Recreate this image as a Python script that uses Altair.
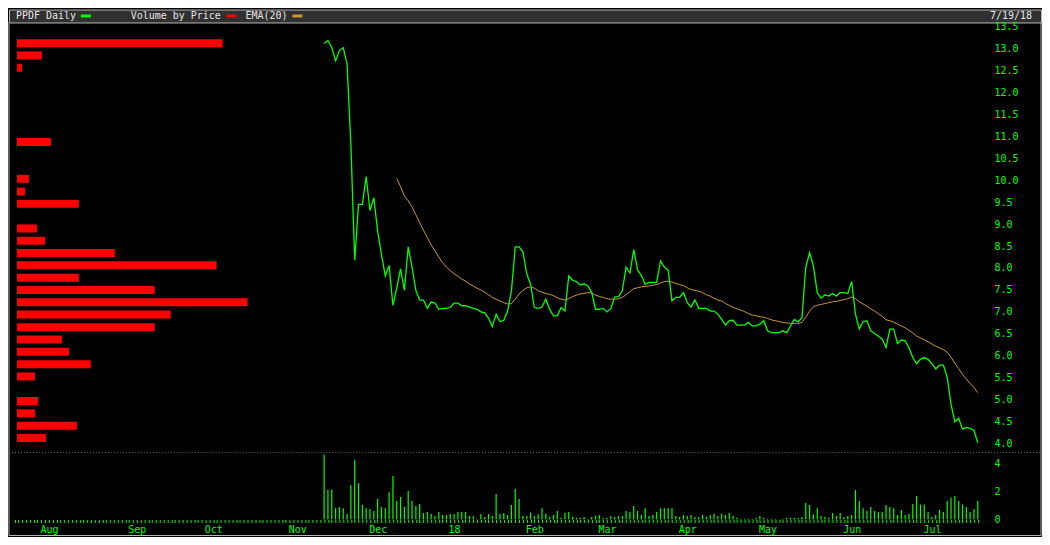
import altair as alt
import pandas as pd

# ---------------- data ----------------
HOLIDAYS = ["2017-09-04", "2017-11-23", "2017-12-25", "2018-01-01", "2018-01-15",
            "2018-02-19", "2018-03-30", "2018-05-28", "2018-07-04"]
START, END, FIRST_TRADE = "2017-07-19", "2018-07-19", "2017-11-10"
MONTH_LABELS = ["Aug", "Sep", "Oct", "Nov", "Dec", "18", "Feb", "Mar", "Apr", "May", "Jun", "Jul"]
HEADER_ITEMS = ["PPDF Daily", "Volume by Price", "EMA(20)"]
HEADER_DATE = "7/19/18"

CLOSE = [
    13.11, 13.18, 13.02, 12.72, 12.95, 13.02, 12.64, 10.82, 8.18, 9.45,
    9.45, 10.08, 9.31, 9.60, 8.84, 8.31, 7.82, 8.06, 7.15, 7.55,
    7.98, 7.49, 8.48, 8.02, 7.49, 7.27, 7.27, 7.08, 7.23, 7.20,
    7.06, 7.08, 7.08, 7.10, 7.20, 7.20, 7.14, 7.14, 7.11, 7.08,
    7.06, 7.00, 6.98, 6.86, 6.67, 6.95, 6.78, 6.81, 7.02, 7.48,
    8.48, 8.48, 8.37, 7.87, 7.63, 7.10, 7.08, 7.11, 7.29, 7.06,
    6.91, 6.91, 7.10, 7.02, 7.82, 7.72, 7.69, 7.61, 7.64, 7.59,
    7.44, 7.06, 7.06, 7.08, 7.00, 7.08, 7.34, 7.35, 7.48, 8.02,
    7.89, 8.42, 7.95, 7.83, 7.63, 7.67, 7.67, 7.68, 8.16, 8.02,
    7.95, 7.25, 7.33, 7.33, 7.44, 7.21, 7.11, 7.27, 7.08, 7.08,
    7.08, 7.02, 7.02, 6.95, 6.83, 6.70, 6.80, 6.81, 6.70, 6.70,
    6.70, 6.76, 6.68, 6.68, 6.72, 6.80, 6.57, 6.53, 6.53, 6.53,
    6.57, 6.53, 6.68, 6.83, 6.77, 6.87, 8.01, 8.35, 8.05, 7.44,
    7.31, 7.39, 7.36, 7.42, 7.36, 7.44, 7.44, 7.42, 7.69, 6.95,
    6.61, 6.78, 6.80, 6.57, 6.51, 6.45, 6.38, 6.19, 6.61, 6.61,
    6.28, 6.36, 6.34, 6.19, 5.96, 5.82, 5.92, 5.96, 5.92, 5.82,
    5.70, 5.79, 5.79, 5.51, 4.90, 4.50, 4.58, 4.33, 4.37, 4.35,
    4.30, 4.02,
]

EMA_OFFSET = 19  # first EMA(20) value is on the 20th session
EMA20 = [
    10.04, 9.85, 9.64, 9.53, 9.39, 9.21, 9.03, 8.86, 8.69, 8.53,
    8.39, 8.25, 8.12, 8.02, 7.94, 7.87, 7.81, 7.75, 7.70, 7.64,
    7.59, 7.54, 7.50, 7.45, 7.39, 7.33, 7.29, 7.25, 7.21, 7.18,
    7.19, 7.29, 7.41, 7.49, 7.55, 7.57, 7.54, 7.48, 7.45, 7.42,
    7.40, 7.37, 7.32, 7.29, 7.27, 7.30, 7.35, 7.38, 7.41, 7.42,
    7.44, 7.43, 7.38, 7.35, 7.33, 7.30, 7.29, 7.29, 7.30, 7.33,
    7.39, 7.46, 7.53, 7.55, 7.57, 7.58, 7.59, 7.61, 7.62, 7.66,
    7.69, 7.70, 7.68, 7.65, 7.62, 7.60, 7.55, 7.51, 7.49, 7.47,
    7.44, 7.39, 7.36, 7.31, 7.27, 7.25, 7.19, 7.15, 7.10, 7.07,
    7.04, 7.01, 6.96, 6.93, 6.91, 6.89, 6.88, 6.85, 6.82, 6.80,
    6.78, 6.76, 6.75, 6.74, 6.74, 6.74, 6.76, 6.88, 7.02, 7.12,
    7.15, 7.17, 7.19, 7.21, 7.23, 7.24, 7.26, 7.28, 7.30, 7.34,
    7.30, 7.23, 7.18, 7.13, 7.07, 7.02, 6.96, 6.90, 6.82, 6.80,
    6.77, 6.72, 6.68, 6.64, 6.58, 6.52, 6.45, 6.41, 6.36, 6.32,
    6.27, 6.22, 6.18, 6.14, 6.08, 5.97, 5.83, 5.71, 5.58, 5.47,
    5.37, 5.28, 5.16,
]

VOLUME = [  # millions of shares
    4.66, 2.11, 2.15, 0.84, 0.89, 0.80, 0.42, 2.46, 4.25, 2.61,
    1.04, 0.80, 0.75, 0.61, 1.46, 0.89, 0.80, 1.96, 3.11, 1.32,
    1.61, 0.89, 2.04, 1.32, 0.96, 1.11, 0.46, 0.54, 0.39, 0.25,
    0.54, 0.32, 0.32, 0.39, 0.39, 0.54, 0.54, 0.54, 0.25, 0.25,
    0.06, 0.39, 0.18, 0.39, 0.25, 1.82, 0.39, 0.46, 0.32, 1.04,
    2.18, 1.46,
    0.25, 0.25, 0.49, 0.25, 0.37, 0.80, 0.41, 0.18, 0.32, 0.61,
    0.13, 0.49, 0.54, 0.18, 0.13, 0.13, 0.18, 0.06, 0.18, 0.25,
    0.32, 0.13, 0.13, 0.25, 0.18, 0.25, 0.25, 0.61, 0.54, 0.96,
    0.61, 0.32, 0.80, 0.25, 0.32, 0.54, 0.80, 0.80, 0.80, 0.80,
    0.25, 0.18, 0.32, 0.25, 0.32, 0.18, 0.18, 0.32, 0.18, 0.32,
    0.41, 0.25, 0.41, 0.32, 0.46, 0.25, 0.13, 0.06, 0.06, 0.06,
    0.06, 0.13, 0.25, 0.13, 0.06, 0.06, 0.06, 0.02, 0.06, 0.13,
    0.13, 0.13, 0.13, 0.18, 1.18, 1.04, 0.37, 0.80, 0.25, 0.18,
    0.13, 0.46, 0.25, 0.46, 0.18, 0.25, 0.32, 2.11, 1.32, 0.80,
    0.61, 0.89, 0.61, 0.54, 0.54, 1.04, 0.89, 0.80, 0.32, 0.68,
    0.32, 0.41, 1.11, 1.68, 1.08, 1.08, 0.54, 0.18, 0.32, 0.68,
    0.54, 1.32, 1.56, 1.68, 1.32, 1.08, 0.89, 0.54, 0.75, 1.32,
]

VBP_PRICE = [4.13, 4.41, 4.69, 4.97, 5.53, 5.81, 6.09, 6.37, 6.65, 6.94, 7.22, 7.50,
             7.78, 8.06, 8.34, 8.62, 8.90, 9.46, 9.74, 10.03, 10.87, 12.56, 12.84, 13.12]
VBP_VOLUME = [2.03, 4.20, 1.26, 1.47, 1.26, 5.18, 3.64, 3.15, 9.66, 10.78, 16.17, 9.66,
              4.34, 14.00, 6.86, 1.96, 1.40, 4.34, 0.56, 0.84, 2.38, 0.35, 1.75, 14.42]

PRICE_TICKS = [4.0, 4.5, 5.0, 5.5, 6.0, 6.5, 7.0, 7.5, 8.0, 8.5, 9.0, 9.5,
               10.0, 10.5, 11.0, 11.5, 12.0, 12.5, 13.0, 13.5]
VOLUME_TICKS = [0, 2, 4]

# ---------------- trading-day index ----------------
days = pd.bdate_range(START, END)
days = days[~days.isin(pd.to_datetime(HOLIDAYS))]
n_days = len(days)
first_i = int(days.get_loc(pd.Timestamp(FIRST_TRADE)))
sess = pd.Series(range(n_days), index=days)
month_first = sess.groupby([days.year, days.month]).min().tolist()[1:]

price_df = pd.DataFrame({"i": range(first_i, first_i + len(CLOSE)), "close": CLOSE})
ema_df = pd.DataFrame({"i": range(first_i + EMA_OFFSET, first_i + EMA_OFFSET + len(EMA20)), "ema": EMA20})
vol_df = pd.DataFrame({"i": range(first_i, first_i + len(VOLUME)), "vol": VOLUME})
vbp_df = pd.DataFrame({"level": VBP_PRICE, "vol": VBP_VOLUME})
one = pd.DataFrame({"k": [0]})

# ---------------- style / layout ----------------
FONT = "DejaVu Sans Mono"
GREEN = "#00ff00"
RED = "#ff0000"
EMA_C = "#cc9633"
BORDER = "#b8b8b8"
W, FULL_W = 980, 1034
H_HEAD, H_PRICE, H_VOL, H_VOL_BOX = 13, 431, 67, 83
STEP, X0 = 3.83, 5.5

x_scale = alt.Scale(domain=[-X0 / STEP, (W - X0) / STEP], nice=False, zero=False, padding=0)
y_price = alt.Scale(domain=[3.795, 3.795 + H_PRICE / 44.0], nice=False, zero=False, padding=0)
price_axis = alt.Axis(orient="right", values=PRICE_TICKS, format=".1f", title=None, grid=False,
                      domain=False, ticks=False, tickSize=0, labelPadding=7, labelAlign="left",
                      labelColor=GREEN, labelFont=FONT, labelFontSize=10, labelOverlap=False)

# header
def htext(txt, x, align="left"):
    return alt.Chart(one).mark_text(text=txt, align=align, baseline="middle", font=FONT,
                                    fontSize=10, color="#e6e6e6").encode(x=alt.value(x), y=alt.value(7))

def swatch(x, color):
    return alt.Chart(one).mark_rect(color=color).encode(
        x=alt.value(x), x2=alt.value(x + 10), y=alt.value(5), y2=alt.value(8))

header = alt.layer(
    htext(HEADER_ITEMS[0], 7), swatch(72, GREEN),
    htext(HEADER_ITEMS[1], 122), swatch(218, RED),
    htext(HEADER_ITEMS[2], 237), swatch(284, EMA_C),
    htext(HEADER_DATE, 1025, "right"),
).properties(width=FULL_W, height=H_HEAD,
             view=alt.ViewBackground(fill="#303030", stroke=BORDER, strokeWidth=1))

# price panel
vbp = alt.Chart(vbp_df).mark_bar(orient="horizontal", size=8, color=RED).encode(
    x=alt.X("vol:Q", scale=alt.Scale(domain=[-0.56, 68.04], nice=False, zero=False, padding=0),
            axis=None),
    y=alt.Y("level:Q", scale=y_price, axis=price_axis),
)
ema = alt.Chart(ema_df).mark_line(color=EMA_C, strokeWidth=1).encode(
    x=alt.X("i:Q", scale=x_scale, axis=None),
    y=alt.Y("ema:Q", scale=y_price, axis=price_axis),
)
line = alt.Chart(price_df).mark_line(color=GREEN, strokeWidth=1.3).encode(
    x=alt.X("i:Q", scale=x_scale, axis=None),
    y=alt.Y("close:Q", scale=y_price, axis=price_axis),
)
p_left = alt.Chart(one).mark_rule(color=BORDER).encode(x=alt.value(0), y=alt.value(0), y2=alt.value(H_PRICE))
p_right = alt.Chart(one).mark_rule(color=BORDER).encode(x=alt.value(FULL_W), y=alt.value(0), y2=alt.value(H_PRICE))

price = alt.layer(vbp, ema, line, p_left, p_right).resolve_scale(x="independent").properties(
    width=W, height=H_PRICE)

# volume panel
label_expr = (f"indexof({month_first}, datum.value) >= 0 ? "
              f"{MONTH_LABELS}[indexof({month_first}, datum.value)] : ''")
x_axis = alt.Axis(values=list(range(n_days)), labelExpr=label_expr, title=None, grid=False,
                  domain=False, tickSize=3, tickColor=GREEN, tickWidth=1, labelPadding=2,
                  labelColor=GREEN, labelFont=FONT, labelFontSize=10, labelOverlap=False,
                  labelFlush=False)
vol_axis = alt.Axis(orient="right", values=VOLUME_TICKS, title=None, grid=False, domain=False,
                    ticks=False, tickSize=0, labelPadding=7, labelAlign="left", labelColor=GREEN,
                    labelFont=FONT, labelFontSize=10)
vbars = alt.Chart(vol_df).mark_bar(size=1.2, color=GREEN).encode(
    x=alt.X("i:Q", scale=x_scale, axis=x_axis),
    y=alt.Y("vol:Q", scale=alt.Scale(domain=[0, H_VOL / 14.0], nice=False, padding=0), axis=vol_axis),
)
sep = alt.Chart(one).mark_rule(color="#707070", strokeDash=[1, 2]).encode(
    x=alt.value(0), x2=alt.value(FULL_W), y=alt.value(0))
v_left = alt.Chart(one).mark_rule(color=BORDER).encode(x=alt.value(0), y=alt.value(0), y2=alt.value(H_VOL_BOX))
v_right = alt.Chart(one).mark_rule(color=BORDER).encode(x=alt.value(FULL_W), y=alt.value(0), y2=alt.value(H_VOL_BOX))
v_bottom = alt.Chart(one).mark_rule(color=BORDER).encode(x=alt.value(0), x2=alt.value(FULL_W), y=alt.value(H_VOL_BOX))

volume = alt.layer(vbars, sep, v_left, v_right, v_bottom).properties(width=W, height=H_VOL)

chart = alt.vconcat(header, price, volume, spacing=0, bounds="flush").properties(
    padding=0, background="#000000"
).configure_view(strokeWidth=0)

chart.save("out.html", embed_options={"renderer": "svg", "actions": False})
